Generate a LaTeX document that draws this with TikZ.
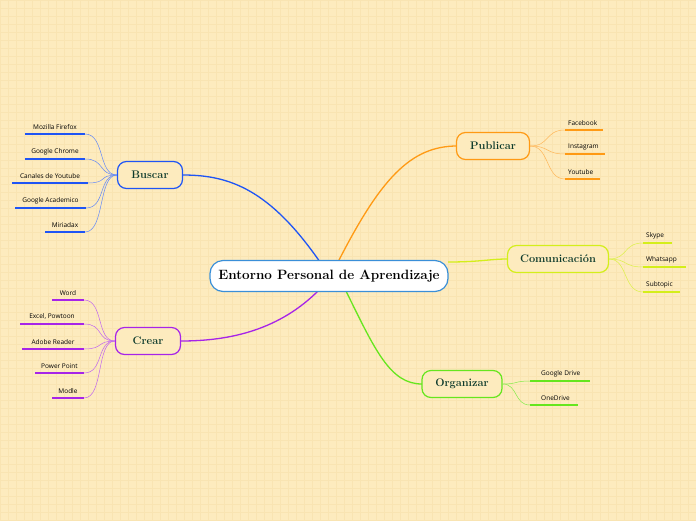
\documentclass[tikz,border=0pt]{standalone}
\usepackage{fontspec}
\setsansfont{Open Sans}
\definecolor{bgyel}{HTML}{FDEBBE}
\definecolor{gridyel}{HTML}{F9E4B2}
\definecolor{cblue}{HTML}{1F55F5}
\definecolor{corange}{HTML}{FF9A14}
\definecolor{clime}{HTML}{D4EE1A}
\definecolor{cgreen}{HTML}{66E61E}
\definecolor{cpurple}{HTML}{A724E8}
\definecolor{ctext}{HTML}{0E3B2C}
\definecolor{cframe}{HTML}{3A8FD8}
\tikzset{
	topic/.style={draw, line width=1.2pt, rounded corners=9pt, fill=bgyel, text=ctext, font=\bfseries\fontsize{11}{12}\selectfont, minimum height=27pt, inner xsep=8pt},
	leaf/.style={font=\sffamily\fontsize{6.5}{7}\selectfont, text=black, inner sep=1pt},
	uline/.style={line width=1.3pt},
}
\begin{document}
\begin{tikzpicture}[x=1pt, y=-1pt]
				\useasboundingbox (0,0) rectangle (696,520);
				\fill[bgyel] (0,0) rectangle (696,520);
				\draw[gridyel, line width=0.4pt, step=8pt] (0,0) grid (696,520);
				
				% main branches
				\coordinate (cb) at (320,262);
				\coordinate (cp) at (338,262);
				\coordinate (cc) at (448,262);
				\coordinate (co) at (345,289);
				\coordinate (cr) at (320,289);
				\draw[cblue, line width=1.3pt] (cb) .. controls (270,190) and (230,175) .. (183,175);
				\draw[corange, line width=1.3pt] (cp) .. controls (380,180) and (410,146) .. (457,146);
				\draw[clime, line width=1.3pt] (cc) .. controls (480,262) and (490,259) .. (507,259);
				\draw[cgreen, line width=1.3pt] (co) .. controls (375,350) and (390,384) .. (422,384);
				\draw[cpurple, line width=1.3pt] (cr) .. controls (280,330) and (230,341) .. (181,341);
				
				\node[draw=cframe, line width=1.2pt, rounded corners=13pt, fill=white, minimum width=238pt, minimum height=31pt, font=\bfseries\fontsize{13.5}{15}\selectfont] (root) at (329,276) {Entorno Personal de Aprendizaje};
				
				\node[topic, draw=cblue, minimum width=65pt] (buscar) at (150,175) {Buscar};
				\node[topic, draw=corange, minimum width=73pt] (publicar) at (493,146) {Publicar};
				\node[topic, draw=clime, minimum width=101pt] (comunic) at (558,259) {Comunicación};
				\node[topic, draw=cgreen, minimum width=80pt] (organizar) at (462,384) {Organizar};
				\node[topic, draw=cpurple, minimum width=65pt] (crear) at (148,341) {Crear};
				
				% Buscar
				\foreach \y/\xa/\xb/\txt/\nm in {134/25/85/Mozilla Firefox/bA, 159/25/85/Google Chrome/bB, 183/12/88/Canales de Youtube/bC, 208/15/86/Google Academico/bD, 232/45/85/Miriadax/bE}{
					\coordinate (\nm l) at (\xa,\y);
					\coordinate (\nm r) at (\xb,\y);
					\draw[cblue, uline] (\nm l) -- (\nm r);
					\node[leaf, anchor=south] (\nm) at ({(\xa+\xb)/2},\y-3) {\txt};
					\draw[cblue!70, line width=0.5pt] (\nm r) .. controls ({\xb+20},\y) and (98,175) .. (buscar.west);
				}
				
				% Crear
				\foreach \y/\xa/\xb/\txt/\nm in {300/52/84/Word/rA, 324/20/84/{Excel, Powtoon}/rB, 349/22/84/Adobe Reader/rC, 373/35/84/Power Point/rD, 398/52/84/Modle/rE}{
					\coordinate (\nm l) at (\xa,\y);
					\coordinate (\nm r) at (\xb,\y);
					\draw[cpurple, uline] (\nm l) -- (\nm r);
					\node[leaf, anchor=south] (\nm) at ({(\xa+\xb)/2},\y-3) {\txt};
					\draw[cpurple!70, line width=0.5pt] (\nm r) .. controls ({\xb+20},\y) and (96,341) .. (crear.west);
				}
				
				% Publicar
				\foreach \y/\xb/\txt/\nm in {130/603/Facebook/pA, 154/605/Instagram/pB, 179/600/Youtube/pC}{
					\coordinate (\nm l) at (565,\y);
					\coordinate (\nm r) at (\xb,\y);
					\draw[corange, uline] (\nm l) -- (\nm r);
					\node[leaf, anchor=south west] (\nm) at (567,\y-3) {\txt};
					\draw[corange!70, line width=0.5pt] (publicar.east) .. controls (550,146) and (545,\y) .. (\nm l);
				}
				
				% Comunicación
				\foreach \y/\xb/\txt/\nm in {243/672/Skype/cA, 267/686/Whatsapp/cB, 292/680/Subtopic/cC}{
					\coordinate (\nm l) at (643,\y);
					\coordinate (\nm r) at (\xb,\y);
					\draw[clime, uline] (\nm l) -- (\nm r);
					\node[leaf, anchor=south west] (\nm) at (645,\y-3) {\txt};
					\draw[clime!80, line width=0.5pt] (comunic.east) .. controls (628,259) and (623,\y) .. (\nm l);
				}
				
				% Organizar
				\foreach \y/\xb/\txt/\nm in {381/590/Google Drive/oA, 405/578/OneDrive/oB}{
					\coordinate (\nm l) at (530,\y);
					\coordinate (\nm r) at (\xb,\y);
					\draw[cgreen, uline] (\nm l) -- (\nm r);
					\node[leaf, anchor=south west] (\nm) at (540,\y-3) {\txt};
					\draw[cgreen!80, line width=0.5pt] (organizar.east) .. controls (518,384) and (514,\y) .. (\nm l);
				}
			\end{tikzpicture}
\end{document}
